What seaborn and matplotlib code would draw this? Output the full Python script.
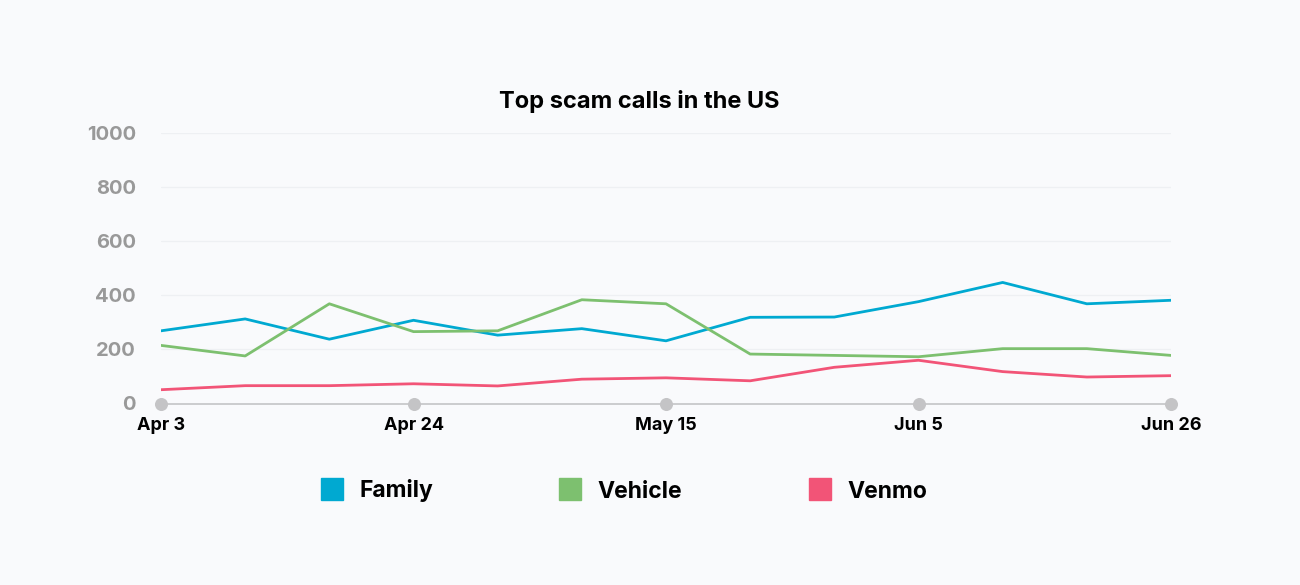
import matplotlib
matplotlib.use("Agg")
import matplotlib.pyplot as plt
from matplotlib.lines import Line2D
import seaborn as sns
import pandas as pd

# data, weekly counts
dates = pd.date_range("2023-04-03", periods=13, freq="7D")
family = [269, 313, 238, 308, 253, 277, 232, 319, 320, 377, 448, 369, 382]
vehicle = [215, 176, 369, 266, 269, 384, 369, 183, 178, 173, 203, 203, 178]
venmo = [51, 66, 66, 73, 65, 90, 95, 84, 134, 160, 118, 98, 103]
series_names = ["Family", "Vehicle", "Venmo"]
colors = ["#00a9d1", "#7dc06f", "#f25477"]
yticks = [0, 200, 400, 600, 800, 1000]

df = pd.DataFrame({"date": list(dates) * 3,
                   "calls": family + vehicle + venmo,
                   "kind": [n for n in series_names for _ in range(len(dates))]})

sns.set_style("white")
plt.rcParams['font.family'] = ['Inter', 'DejaVu Sans']
bg = "#f9fafc"

fig = plt.figure(figsize=(13, 5.85), dpi=100, facecolor=bg)
ax = fig.add_axes([161/1300, (585-403.5)/585, 1010/1300, 270.2/585])
ax.set_facecolor(bg)

sns.lineplot(data=df, x="date", y="calls", hue="kind", palette=colors,
             linewidth=2.0, ax=ax, legend=False)

ax.set_xlim(dates[0], dates[-1])
ax.set_ylim(0, 1000)
for y in yticks[1:]:
    ax.axhline(y, color="#eef0f3", lw=0.9, zorder=0)
ax.axhline(0, color="#c4c4c6", lw=1.2, zorder=1, clip_on=False)

tick_dates = dates[::3]
ax.scatter(tick_dates, [0]*len(tick_dates), s=70, color="#c4c4c6", zorder=3, clip_on=False)
ax.set_xticks(tick_dates)
ax.set_xticklabels([d.strftime("%b ") + str(d.day) for d in tick_dates],
                   fontsize=13, fontweight="bold", color="black")
ax.set_yticks(yticks)
ax.set_yticklabels([str(y) for y in yticks], fontsize=14.5, fontweight="bold", color="#999999")
ax.tick_params(axis="both", length=0)
ax.tick_params(axis="x", pad=10)
ax.tick_params(axis="y", pad=18)
ax.set_xlabel("")
ax.set_ylabel("")
sns.despine(ax=ax, left=True, bottom=True)

fig.text(639/1300, 1 - 101/585, "Top scam calls in the US", ha="center", va="center",
         fontsize=17, fontweight="bold", color="black")

handles = [Line2D([], [], marker="s", linestyle="", markersize=16, color=c) for c in colors]
leg = fig.legend(handles, series_names, loc="center", bbox_to_anchor=(618/1300, 1 - 491/585),
                 ncol=3, frameon=False, columnspacing=5.0, handletextpad=0.2,
                 labelcolor="black", prop={"size": 16.5, "weight": "bold"})

fig.savefig("out.png", dpi=100, facecolor=bg)
